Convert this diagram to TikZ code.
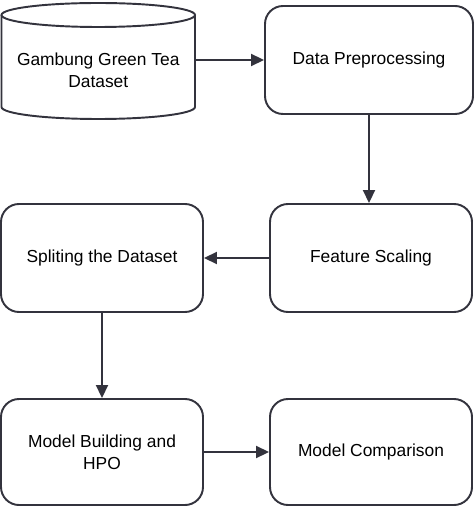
\documentclass[tikz,border=0pt]{standalone}
\usepackage{fontspec}
\setmainfont{Liberation Sans}
\usetikzlibrary{arrows.meta}
\definecolor{linegray}{HTML}{33333D}
\begin{document}
\begin{tikzpicture}[
  stagebox/.style={draw=linegray, line width=1.1pt, rounded corners=0.36cm, align=center,
    minimum width=4.04cm, minimum height=2.16cm, font=\fontsize{9.9}{12.5}\selectfont},
  flow/.style={draw=linegray, line width=1.1pt, -{Triangle[length=0.26cm,width=0.24cm]}}
]
\useasboundingbox (0,0) rectangle (9.48,-10.14);

% Draw the dataset drum
\draw[linegray, line width=1.1pt] (0.03,-0.30) -- (0.03,-2.14)
  arc[start angle=180, end angle=360, x radius=1.935cm, y radius=0.24cm] -- (3.90,-0.30);
\draw[linegray, line width=1.1pt] (1.965,-0.30) ellipse [x radius=1.935cm, y radius=0.24cm];
\node[align=center, minimum width=3.87cm, font=\fontsize{9.9}{12.5}\selectfont] (data) at (1.965, -1.40) {Gambung Green Tea\\Dataset};

% Draw the stages
\node[stagebox, minimum width=4.16cm] (prep) at (7.38, -1.20) {Data Preprocessing};
\node[stagebox] (scale) at (7.42, -5.16) {Feature Scaling};
\node[stagebox] (split) at (2.04, -5.16) {Spliting the Dataset};
\node[stagebox, minimum height=2.12cm] (build) at (2.04, -9.04) {Model Building and\\HPO};
\node[stagebox, minimum height=2.12cm] (compare) at (7.42, -9.04) {Model Comparison};

% Connect them
\draw[flow] (data.east |- prep.west) -- (prep.west);
\draw[flow] (prep.south) -- (prep.south |- scale.north);
\draw[flow] (scale) -- (split);
\draw[flow] (split) -- (build);
\draw[flow] (build) -- (compare);
\end{tikzpicture}
\end{document}
